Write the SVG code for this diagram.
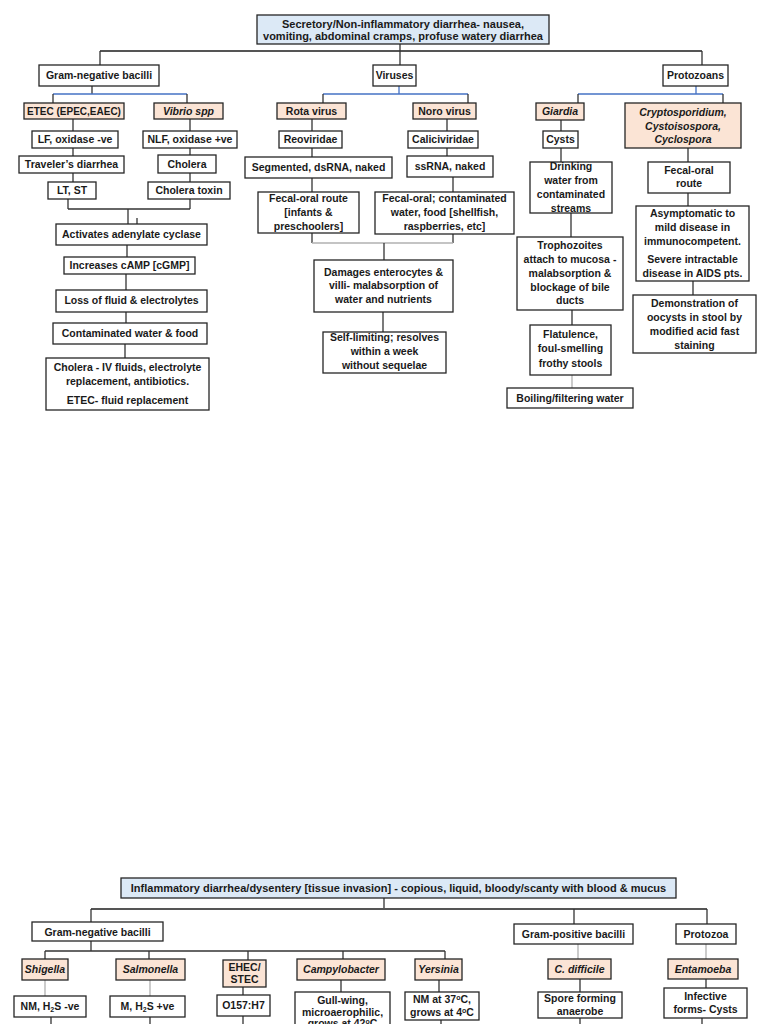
<svg xmlns="http://www.w3.org/2000/svg" width="768" height="1024" viewBox="0 0 768 1024">
<style>
.b{fill:#fff;stroke:#262626;stroke-width:1.3}
.p{fill:#fbe4d5;stroke:#262626;stroke-width:1.3}
.t{fill:#dce9f6;stroke:#262626;stroke-width:1.3}
text{font-family:"Liberation Sans",Arial,sans-serif;font-weight:bold;font-size:10.5px;fill:#1a1a1a;text-anchor:middle}
.i{font-style:italic}
.h{font-size:11px}
.s{font-size:10px}
.c line{stroke:#333;stroke-width:1.3}
.c line.bl{stroke:#4472c4}
.c line.lt{stroke:#b0b0b0}
.c line.g{stroke:#555;stroke-width:2}
</style>
<rect width="768" height="1024" fill="#fff"/>
<g class="c" id="connectors">
<line class="g" x1="100" y1="51" x2="702" y2="51"/>
<line x1="100" y1="51" x2="100" y2="65"/>
<line x1="400" y1="44" x2="400" y2="65"/>
<line x1="702" y1="51" x2="702" y2="65"/>
<line x1="92" y1="86" x2="92" y2="94"/>
<line class="bl" x1="53" y1="94" x2="187" y2="94"/>
<line x1="53" y1="94" x2="53" y2="103"/>
<line x1="187" y1="94" x2="187" y2="103"/>
<line x1="73" y1="119" x2="73" y2="131"/>
<line x1="73" y1="148" x2="73" y2="156"/>
<line x1="73" y1="173" x2="73" y2="182"/>
<line x1="190" y1="119" x2="190" y2="131"/>
<line x1="190" y1="148" x2="190" y2="155"/>
<line x1="190" y1="173" x2="190" y2="182"/>
<line x1="68" y1="199" x2="68" y2="209"/>
<line x1="190" y1="199" x2="190" y2="209"/>
<line x1="68" y1="209" x2="190" y2="209"/>
<line x1="128" y1="209" x2="128" y2="224"/>
<line x1="137" y1="218" x2="137" y2="232"/>
<line x1="127" y1="245" x2="127" y2="257"/>
<line x1="126" y1="274" x2="126" y2="290"/>
<line x1="126" y1="312" x2="126" y2="323"/>
<line x1="125" y1="344" x2="125" y2="358"/>
<line class="bl" x1="399" y1="86" x2="399" y2="94"/>
<line class="bl" x1="323" y1="94" x2="468" y2="94"/>
<line x1="323" y1="94" x2="323" y2="103"/>
<line x1="468" y1="94" x2="468" y2="103"/>
<line x1="312" y1="119" x2="312" y2="131"/>
<line x1="312" y1="148" x2="312" y2="157"/>
<line x1="312" y1="178" x2="312" y2="192"/>
<line x1="447" y1="119" x2="447" y2="131"/>
<line x1="447" y1="148" x2="447" y2="156"/>
<line x1="453" y1="177" x2="453" y2="192"/>
<line x1="312" y1="233" x2="312" y2="243"/>
<line x1="453" y1="234" x2="453" y2="243"/>
<line class="lt" x1="312" y1="243" x2="453" y2="243"/>
<line x1="384" y1="243" x2="384" y2="260"/>
<line x1="383" y1="312" x2="383" y2="332"/>
<line class="bl" x1="696" y1="86" x2="696" y2="94"/>
<line class="bl" x1="578" y1="94" x2="723" y2="94"/>
<line x1="578" y1="94" x2="578" y2="103"/>
<line x1="723" y1="94" x2="723" y2="103"/>
<line x1="561" y1="120" x2="561" y2="131"/>
<line x1="561" y1="148" x2="561" y2="162"/>
<line x1="571" y1="213" x2="571" y2="237"/>
<line x1="572" y1="310" x2="572" y2="325"/>
<line class="lt" x1="572" y1="375" x2="572" y2="388"/>
<line x1="688" y1="148" x2="688" y2="162"/>
<line x1="688" y1="193" x2="688" y2="206"/>
<line x1="693" y1="281" x2="693" y2="295"/>
<line x1="384" y1="898" x2="384" y2="909"/>
<line class="g" x1="91" y1="909" x2="707" y2="909"/>
<line x1="91" y1="909" x2="91" y2="922"/>
<line x1="574" y1="909" x2="574" y2="924"/>
<line x1="707" y1="909" x2="707" y2="924"/>
<line x1="91" y1="941" x2="91" y2="951"/>
<line x1="45" y1="951" x2="445" y2="951"/>
<line x1="45" y1="951" x2="45" y2="959"/>
<line x1="149" y1="951" x2="149" y2="959"/>
<line x1="248" y1="951" x2="248" y2="960"/>
<line x1="343" y1="951" x2="343" y2="959"/>
<line x1="445" y1="951" x2="445" y2="959"/>
<line class="lt" x1="45" y1="980" x2="45" y2="996"/>
<line class="lt" x1="150" y1="980" x2="150" y2="996"/>
<line x1="243" y1="987" x2="243" y2="995"/>
<line x1="341" y1="980" x2="341" y2="992"/>
<line x1="439" y1="980" x2="439" y2="992"/>
<line class="lt" x1="578" y1="944" x2="578" y2="959"/>
<line x1="580" y1="979" x2="580" y2="992"/>
<line class="lt" x1="706" y1="944" x2="706" y2="959"/>
<line x1="706" y1="979" x2="706" y2="988"/>
<line x1="51" y1="1017" x2="51" y2="1024"/>
<line x1="150" y1="1017" x2="150" y2="1024"/>
<line x1="243" y1="1016" x2="243" y2="1024"/>
<line x1="441" y1="1020" x2="441" y2="1024"/>
<line x1="580" y1="1018" x2="580" y2="1024"/>
<line x1="702" y1="1018" x2="702" y2="1024"/>
</g>
<g id="title1"><rect class="t" x="257" y="15" width="292" height="29"/><text class="h" x="403" y="27.5">Secretory/Non-inflammatory diarrhea- nausea,</text><text class="h" x="403" y="40">vomiting, abdominal cramps, profuse watery diarrhea</text></g>
<g id="gnb"><rect class="b" x="39" y="65" width="120" height="21"/><text x="99" y="79">Gram-negative bacilli</text></g>
<g id="viruses"><rect class="b" x="373" y="65" width="43" height="21"/><text x="394.5" y="79">Viruses</text></g>
<g id="protozoans"><rect class="b" x="663" y="65" width="65" height="21"/><text x="695.5" y="79">Protozoans</text></g>
<g id="etec"><rect class="p" x="24" y="103" width="100" height="16"/><text class="s" x="74" y="115">ETEC (EPEC,EAEC)</text></g>
<g id="vibrio"><rect class="p" x="154" y="103" width="69" height="16"/><text class="i" x="188.5" y="115">Vibrio spp</text></g>
<g id="lf"><rect class="b" x="32" y="131" width="86" height="17"/><text x="75" y="143">LF, oxidase -ve</text></g>
<g id="nlf"><rect class="b" x="143" y="131" width="94" height="17"/><text x="190" y="143">NLF, oxidase +ve</text></g>
<g id="traveler"><rect class="b" x="19" y="156" width="105" height="17"/><text x="71.5" y="168">Traveler’s diarrhea</text></g>
<g id="cholera"><rect class="b" x="158" y="155" width="58" height="18"/><text x="187" y="167.5">Cholera</text></g>
<g id="ltst"><rect class="b" x="48" y="182" width="48" height="17"/><text x="72" y="194">LT, ST</text></g>
<g id="toxin"><rect class="b" x="148" y="182" width="82" height="17"/><text x="189" y="194">Cholera toxin</text></g>
<g id="adenylate"><rect class="b" x="56" y="224" width="151" height="21"/><text x="131.5" y="238">Activates adenylate cyclase</text></g>
<g id="camp"><rect class="b" x="64" y="257" width="131" height="17"/><text x="129.5" y="269">Increases cAMP [cGMP]</text></g>
<g id="loss"><rect class="b" x="56" y="290" width="151" height="22"/><text x="131.5" y="304">Loss of fluid &amp; electrolytes</text></g>
<g id="contam"><rect class="b" x="53" y="323" width="154" height="21"/><text x="130" y="337">Contaminated water &amp; food</text></g>
<g id="treat"><rect class="b" x="46" y="358" width="163" height="52"/><text x="127.5" y="370.5">Cholera - IV fluids, electrolyte</text><text x="127.5" y="385">replacement, antibiotics.</text><text x="127.5" y="404">ETEC- fluid replacement</text></g>
<g id="rota"><rect class="p" x="277" y="103" width="69" height="16"/><text x="311.5" y="115">Rota virus</text></g>
<g id="noro"><rect class="p" x="413" y="103" width="63" height="16"/><text x="444.5" y="115">Noro virus</text></g>
<g id="reo"><rect class="b" x="279" y="131" width="63" height="17"/><text x="310.5" y="143">Reoviridae</text></g>
<g id="calici"><rect class="b" x="408" y="131" width="70" height="17"/><text x="443" y="143">Caliciviridae</text></g>
<g id="segmented"><rect class="b" x="245" y="157" width="147" height="21"/><text x="318.5" y="171">Segmented, dsRNA, naked</text></g>
<g id="ssrna"><rect class="b" x="407" y="156" width="86" height="21"/><text x="450" y="170">ssRNA, naked</text></g>
<g id="fecal1"><rect class="b" x="258" y="192" width="101" height="41"/><text x="308.5" y="202">Fecal-oral route</text><text x="308.5" y="216">[infants &amp;</text><text x="308.5" y="230">preschoolers]</text></g>
<g id="fecal2"><rect class="b" x="375" y="192" width="139" height="42"/><text x="444.5" y="202">Fecal-oral; contaminated</text><text x="444.5" y="216">water, food [shellfish,</text><text x="444.5" y="230">raspberries, etc]</text></g>
<g id="damages"><rect class="b" x="314" y="260" width="139" height="52"/><text x="383.5" y="275.5">Damages enterocytes &amp;</text><text x="383.5" y="289">villi- malabsorption of</text><text x="383.5" y="302.5">water and nutrients</text></g>
<g id="selflim"><rect class="b" x="323" y="332" width="123" height="41"/><text x="384.5" y="341">Self-limiting; resolves</text><text x="384.5" y="355">within a week</text><text x="384.5" y="369">without sequelae</text></g>
<g id="giardia"><rect class="p" x="536" y="103" width="48" height="17"/><text class="i" x="560" y="115">Giardia</text></g>
<g id="crypto"><rect class="p" x="625" y="103" width="116" height="45"/><text class="i" x="683" y="116">Cryptosporidium,</text><text class="i" x="683" y="130">Cystoisospora,</text><text class="i" x="683" y="143">Cyclospora</text></g>
<g id="cysts"><rect class="b" x="543" y="131" width="35" height="17"/><text x="560.5" y="143">Cysts</text></g>
<g id="drinking"><rect class="b" x="530" y="162" width="82" height="51"/><text x="571" y="170">Drinking</text><text x="571" y="184">water from</text><text x="571" y="198">contaminated</text><text x="571" y="212">streams</text></g>
<g id="fecal3"><rect class="b" x="648" y="162" width="82" height="31"/><text x="689" y="174">Fecal-oral</text><text x="689" y="187">route</text></g>
<g id="asym"><rect class="b" x="636" y="206" width="113" height="75"/><text x="692.5" y="217">Asymptomatic to</text><text x="692.5" y="231">mild disease in</text><text x="692.5" y="245">immunocompetent.</text><text x="692.5" y="263">Severe intractable</text><text x="692.5" y="277">disease in AIDS pts.</text></g>
<g id="demo"><rect class="b" x="633" y="295" width="123" height="58"/><text x="694.5" y="307">Demonstration of</text><text x="694.5" y="321">oocysts in stool by</text><text x="694.5" y="335">modified acid fast</text><text x="694.5" y="349">staining</text></g>
<g id="tropho"><rect class="b" x="517" y="237" width="106" height="73"/><text x="570" y="249">Trophozoites</text><text x="570" y="263">attach to mucosa -</text><text x="570" y="277">malabsorption &amp;</text><text x="570" y="291">blockage of bile</text><text x="570" y="304">ducts</text></g>
<g id="flatulence"><rect class="b" x="530" y="325" width="81" height="50"/><text x="570.5" y="338">Flatulence,</text><text x="570.5" y="352">foul-smelling</text><text x="570.5" y="367">frothy stools</text></g>
<g id="boiling"><rect class="b" x="507" y="388" width="126" height="20"/><text x="570" y="402">Boiling/filtering water</text></g>
<g id="title2"><rect class="t" x="121" y="878" width="555" height="20"/><text class="h" x="398.5" y="892">Inflammatory diarrhea/dysentery [tissue invasion] - copious, liquid, bloody/scanty with blood &amp; mucus</text></g>
<g id="gnb2"><rect class="b" x="32" y="922" width="131" height="19"/><text x="97.5" y="935.5">Gram-negative bacilli</text></g>
<g id="gpb"><rect class="b" x="514" y="924" width="119" height="20"/><text x="573.5" y="938">Gram-positive bacilli</text></g>
<g id="protozoa"><rect class="b" x="676" y="924" width="60" height="20"/><text x="706" y="938">Protozoa</text></g>
<g id="shigella"><rect class="p" x="22" y="959" width="46" height="21"/><text class="i" x="45" y="973">Shigella</text></g>
<g id="salmonella"><rect class="p" x="116" y="959" width="69" height="21"/><text class="i" x="150.5" y="973">Salmonella</text></g>
<g id="ehec"><rect class="p" x="223" y="960" width="43" height="27"/><text x="244.5" y="970.5">EHEC/</text><text x="244.5" y="983">STEC</text></g>
<g id="campylo"><rect class="p" x="297" y="959" width="88" height="21"/><text class="i" x="341" y="973">Campylobacter</text></g>
<g id="yersinia"><rect class="p" x="415" y="959" width="47" height="21"/><text class="i" x="438.5" y="973">Yersinia</text></g>
<g id="cdiff"><rect class="p" x="548" y="959" width="63" height="20"/><text class="i" x="579.5" y="972.5">C. difficile</text></g>
<g id="entamoeba"><rect class="p" x="668" y="959" width="70" height="20"/><text class="i" x="703" y="972.5">Entamoeba</text></g>
<g id="nm"><rect class="b" x="14" y="996" width="72" height="21"/><text x="50" y="1010">NM, H<tspan font-size="7" dy="2">2</tspan><tspan dy="-2">S -ve</tspan></text></g>
<g id="m"><rect class="b" x="110" y="996" width="75" height="21"/><text x="147.5" y="1010">M, H<tspan font-size="7" dy="2">2</tspan><tspan dy="-2">S +ve</tspan></text></g>
<g id="o157"><rect class="b" x="217" y="995" width="53" height="21"/><text x="243.5" y="1009">O157:H7</text></g>
<g id="gull"><rect class="b" x="295" y="992" width="95" height="40"/><text x="342.5" y="1004">Gull-wing,</text><text x="342.5" y="1016">microaerophilic,</text><text x="342.5" y="1027">grows at 42<tspan font-size="7" dy="-3">o</tspan><tspan dy="3">C</tspan></text></g>
<g id="nm37"><rect class="b" x="405" y="992" width="74" height="28"/><text x="442" y="1002.5">NM at 37<tspan font-size="7" dy="-3">o</tspan><tspan dy="3">C,</tspan></text><text x="442" y="1016">grows at 4<tspan font-size="7" dy="-3">o</tspan><tspan dy="3">C</tspan></text></g>
<g id="spore"><rect class="b" x="538" y="992" width="84" height="26"/><text x="580" y="1002">Spore forming</text><text x="580" y="1015">anaerobe</text></g>
<g id="infective"><rect class="b" x="664" y="988" width="83" height="30"/><text x="705.5" y="999.5">Infective</text><text x="705.5" y="1013">forms- Cysts</text></g>
</svg>
